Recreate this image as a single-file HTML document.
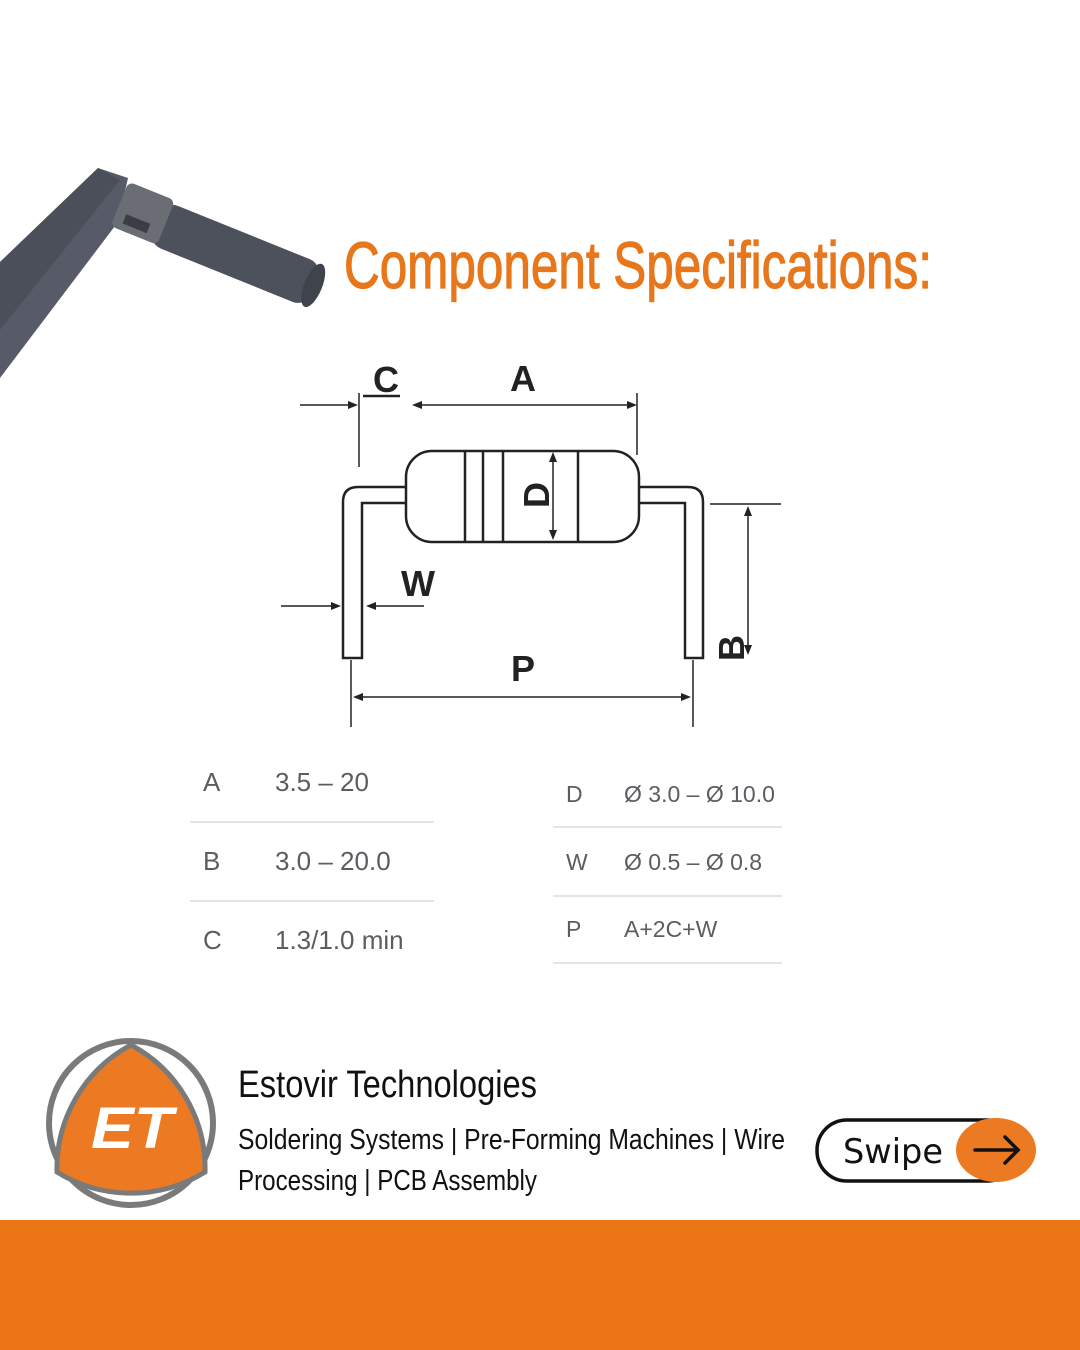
<!DOCTYPE html>
<html><head><meta charset="utf-8"><style>
html,body{margin:0;padding:0;background:#fff}
svg{display:block}
</style></head><body>
<svg width="1080" height="1350" viewBox="0 0 1080 1350" xmlns="http://www.w3.org/2000/svg">
<rect width="1080" height="1350" fill="#fff"/>
<!-- lever -->
<polygon points="0,262 98,168 128,178 118,222 0,378" fill="#565b67"/>
<polygon points="0,262 98,168 120,180 0,330" fill="#4a4f5a"/>
<g transform="translate(120,203) rotate(22)">
<rect x="40" y="-19" width="172" height="46" rx="15" fill="#4c515b"/>
<ellipse cx="210" cy="4" rx="9" ry="23" fill="#3f434c"/>
<rect x="0" y="-23" width="50" height="48" rx="6" fill="#6a6e74"/>
<rect x="10" y="8" width="26" height="10" fill="#3a3d43"/>
</g>
<!-- title -->
<text x="344" y="288" font-family="Liberation Sans, sans-serif" font-size="66" fill="#E8761A" stroke="#E8761A" stroke-width="1.2" textLength="588" lengthAdjust="spacingAndGlyphs">Component Specifications:</text>
<!-- diagram -->
<g stroke="#222" stroke-width="2.5" fill="none">
<rect x="406" y="451" width="233" height="91" rx="26" fill="#fff"/>
<line x1="465" y1="451" x2="465" y2="542"/>
<line x1="483" y1="451" x2="483" y2="542"/>
<line x1="503" y1="451" x2="503" y2="542"/>
<line x1="578" y1="451" x2="578" y2="542"/>
<path d="M406,487 L358,487 Q343,487 343,502 L343,658 L362,658 L362,503 L406,503"/>
<path d="M639,487 L688,487 Q703,487 703,502 L703,658 L685,658 L685,503 L639,503"/>
</g>
<g stroke="#222" stroke-width="1.5" fill="none">
<line x1="359" y1="393" x2="359" y2="467"/>
<line x1="300" y1="405" x2="352" y2="405"/>
<line x1="637" y1="393" x2="637" y2="455"/>
<line x1="418" y1="405" x2="630" y2="405"/>
<line x1="553" y1="458" x2="553" y2="535"/>
<line x1="281" y1="606" x2="335" y2="606"/>
<line x1="372" y1="606" x2="424" y2="606"/>
<line x1="710" y1="504" x2="781" y2="504"/>
<line x1="748" y1="512" x2="748" y2="648"/>
<line x1="351" y1="660" x2="351" y2="727"/>
<line x1="693" y1="660" x2="693" y2="727"/>
<line x1="358" y1="697" x2="686" y2="697"/>
<line x1="363" y1="396" x2="400" y2="396" stroke-width="2.5"/>
</g>
<g fill="#222">
<polygon points="358,405 348,401 348,409"/>
<polygon points="412,405 422,401 422,409"/>
<polygon points="637,405 627,401 627,409"/>
<polygon points="553,452 549,462 557,462"/>
<polygon points="553,540 549,530 557,530"/>
<polygon points="341,606 331,602 331,610"/>
<polygon points="366,606 376,602 376,610"/>
<polygon points="748,506 744,516 752,516"/>
<polygon points="748,655 744,645 752,645"/>
<polygon points="353,697 363,693 363,701"/>
<polygon points="691,697 681,693 681,701"/>
</g>
<g font-family="Liberation Sans, sans-serif" font-weight="bold" font-size="36" fill="#222" text-anchor="middle">
<text x="386" y="392">C</text>
<text x="523" y="391">A</text>
<text x="418" y="596">W</text>
<text x="523" y="681">P</text>
<text transform="translate(549,495) rotate(-90)">D</text>
<text transform="translate(744,648) rotate(-90)">B</text>
</g>
<!-- table -->
<g font-family="Liberation Sans, sans-serif" font-size="26" fill="#5a5d62">
<text x="203" y="791">A</text><text x="275" y="791">3.5 – 20</text>
<text x="203" y="870">B</text><text x="275" y="870">3.0 – 20.0</text>
<text x="203" y="949">C</text><text x="275" y="949">1.3/1.0 min</text>
<text x="566" y="802" font-size="23">D</text><text x="624" y="802" font-size="23">Ø 3.0 – Ø 10.0</text>
<text x="566" y="870" font-size="23">W</text><text x="624" y="870" font-size="23">Ø 0.5 – Ø 0.8</text>
<text x="566" y="937" font-size="23">P</text><text x="624" y="937" font-size="23">A+2C+W</text>
</g>
<g stroke="#dcdcdc" stroke-width="1.5">
<line x1="190" y1="822" x2="434" y2="822"/>
<line x1="190" y1="901" x2="434" y2="901"/>
<line x1="553" y1="827" x2="782" y2="827"/>
<line x1="553" y1="896" x2="782" y2="896"/>
<line x1="553" y1="963" x2="782" y2="963"/>
</g>
<!-- logo -->
<circle cx="131" cy="1123" r="82" fill="#fff" stroke="#7a7a7a" stroke-width="6"/>
<path d="M131,1045 A140,140 0 0 1 205,1172 A140,140 0 0 1 57,1172 A140,140 0 0 1 131,1045 Z" fill="#EC7A22" stroke="#7a7a7a" stroke-width="5"/>
<text x="132" y="1148" font-family="Liberation Sans, sans-serif" font-weight="bold" font-style="italic" font-size="58" fill="#fff" text-anchor="middle" textLength="82" lengthAdjust="spacingAndGlyphs">ET</text>
<!-- company -->
<text x="238" y="1097" font-family="Liberation Sans, sans-serif" font-size="38" fill="#111" textLength="299" lengthAdjust="spacingAndGlyphs">Estovir Technologies</text>
<text x="238" y="1149" font-family="Liberation Sans, sans-serif" font-size="29" fill="#111" textLength="547" lengthAdjust="spacingAndGlyphs">Soldering Systems | Pre-Forming Machines | Wire</text>
<text x="238" y="1190" font-family="Liberation Sans, sans-serif" font-size="29" fill="#111" textLength="299" lengthAdjust="spacingAndGlyphs">Processing | PCB Assembly</text>
<!-- swipe -->
<rect x="817" y="1120" width="200" height="61" rx="30" fill="#fff" stroke="#111" stroke-width="3.5"/>
<ellipse cx="996" cy="1150" rx="40" ry="32" fill="#EC7A22"/>
<text x="843" y="1163" font-family="DejaVu Sans, sans-serif" font-size="34" fill="#111" textLength="100" lengthAdjust="spacingAndGlyphs">Swipe</text>
<g stroke="#111" stroke-width="3.5" fill="none" stroke-linecap="round">
<line x1="975" y1="1150" x2="1018" y2="1150"/>
<polyline points="1005,1137 1018,1150 1005,1163"/>
</g>
<!-- footer -->
<rect x="0" y="1220" width="1080" height="130" fill="#EC7516"/>
</svg>
</body></html>
